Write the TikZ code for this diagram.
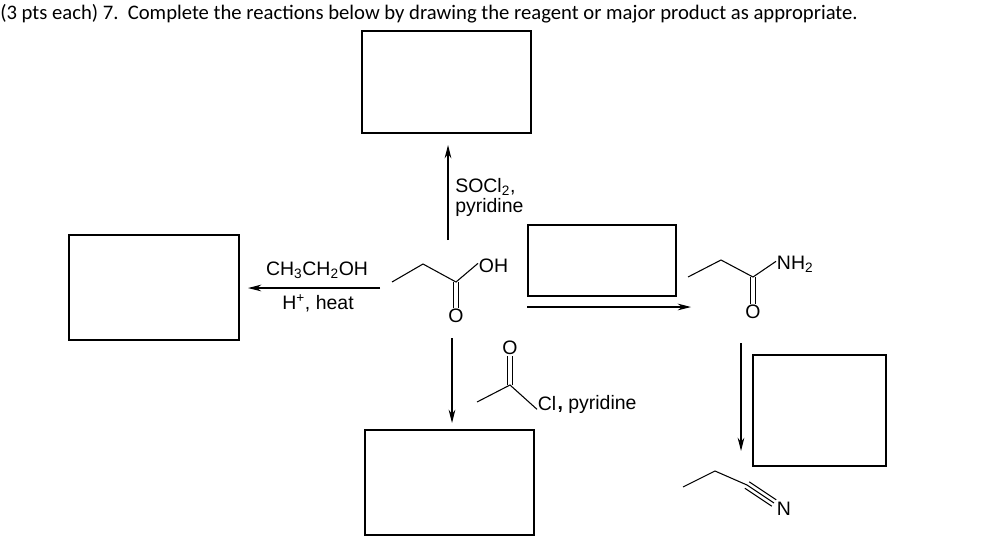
\documentclass[tikz,border=0pt]{standalone}
\usepackage{fontspec}
\setmainfont{Liberation Sans}
\newfontfamily\titlefont{Carlito}
\usetikzlibrary{arrows.meta}
\newcommand{\sbs}[1]{\textsubscript{#1}}
\begin{document}
\begin{tikzpicture}[x=0.75pt,y=-0.75pt,
  box/.style={draw,line width=0.8pt},
  rx/.style={line width=0.8pt,-{Stealth[length=10pt,width=5pt]}},
  bd/.style={line width=0.8pt},
  lab/.style={inner sep=0pt,font=\fontsize{14.6}{17}\selectfont},
  atom/.style={inner sep=0.5pt,font=\fontsize{14.6}{17}\selectfont}]
\useasboundingbox (0,0) rectangle (984,554);
\node[anchor=west,inner sep=0pt,font=\titlefont\fontsize{15.5}{18}\selectfont] (title) at (0,14) {(3 pts each) 7.\ \ Complete the reactions below by drawing the reagent or major product as appropriate.};
% boxes
\draw[box] (362,31) rectangle (531,133);
\draw[box] (69,235) rectangle (239,340);
\draw[box] (528,225) rectangle (676,296);
\draw[box] (753,355) rectangle (886,466);
\draw[box] (365,430) rectangle (534,535);
% arrows
\coordinate (u1) at (448,240); \coordinate (u2) at (448,145);
\coordinate (l1) at (380,288); \coordinate (l2) at (248,288);
\coordinate (r1) at (527,307); \coordinate (r2) at (691,307);
\coordinate (d1) at (452,338); \coordinate (d2) at (452,423);
\coordinate (e1) at (741,343); \coordinate (e2) at (741,451);
\draw[rx] (u1) -- (u2);
\draw[rx] (l1) -- (l2);
\draw[rx] (r1) -- (r2);
\draw[rx] (d1) -- (d2);
\draw[rx] (e1) -- (e2);
% labels
\node[lab,anchor=west] (s1) at (455,187) {SOCl\sbs{2},};
\node[lab,anchor=west] (s2) at (455,207) {pyridine};
\node[lab] (e) at (317,270) {CH\sbs{3}CH\sbs{2}OH};
\node[lab] (h) at (318,303) {H\textsuperscript{+}, heat};
% propanoic acid
\coordinate (a1) at (392,282); \coordinate (a2) at (423,264); \coordinate (a3) at (456,282);
\node[atom,anchor=west] (aoh) at (478,266) {OH};
\node[atom] (ao) at (456,316) {O};
\draw[bd] (a1) -- (a2) -- (a3) -- ([yshift=2]aoh.west);
\draw[bd] ([xshift=-1.6]a3) -- ([xshift=-1.6]ao.north);
\draw[bd] ([xshift=1.6]a3) -- ([xshift=1.6]ao.north);
% acetyl chloride
\coordinate (c1) at (477,402); \coordinate (c2) at (510,385);
\node[atom] (co) at (510,348) {O};
\node[atom,anchor=west] (ccl) at (537,404) {Cl};
\node[lab,anchor=west] (cp) at (ccl.east) {\textbf{,} pyridine};
\draw[bd] (c1) -- (c2) -- ([yshift=-4]ccl.west);
\draw[bd] ([xshift=-1.6]c2) -- ([xshift=-1.6]co.south);
\draw[bd] ([xshift=1.6]c2) -- ([xshift=1.6]co.south);
% propanamide
\coordinate (m1) at (688,277); \coordinate (m2) at (721,260); \coordinate (m3) at (753,277);
\node[atom,anchor=west] (mn) at (776,264) {NH\sbs{2}};
\node[atom] (mo) at (753,312) {O};
\draw[bd] (m1) -- (m2) -- (m3) -- ([yshift=2]mn.west);
\draw[bd] ([xshift=-1.6]m3) -- ([xshift=-1.6]mo.north);
\draw[bd] ([xshift=1.6]m3) -- ([xshift=1.6]mo.north);
% propanenitrile
\coordinate (n1) at (683,487); \coordinate (n2) at (715,471);
\coordinate (n3) at (747,485); \coordinate (n4) at (774,503);
\node[atom] (nn) at (784,509) {N};
\draw[bd] (n1) -- (n2) -- (n3);
\draw[bd] (n3) -- (n4);
\draw[bd] ([shift={(2.2,-3.2)}]n3) -- ([shift={(2.2,-3.2)}]n4);
\draw[bd] ([shift={(-2.2,3.2)}]n3) -- ([shift={(-2.2,3.2)}]n4);
\end{tikzpicture}
\end{document}
